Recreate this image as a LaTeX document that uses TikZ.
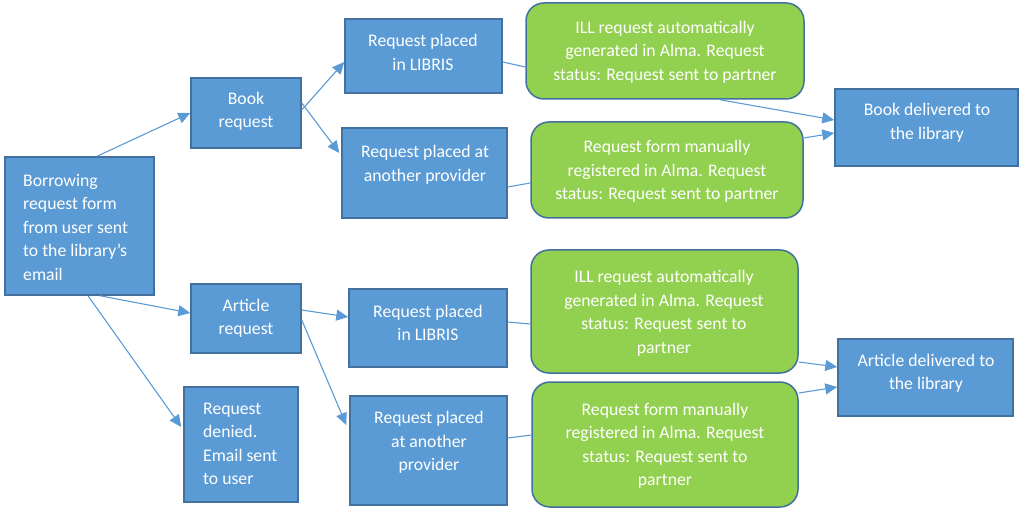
\documentclass[tikz,border=0pt]{standalone}
\usepackage{fontspec}
\setmainfont{Carlito}
\usetikzlibrary{arrows.meta}
\definecolor{blu}{HTML}{5B9BD5}
\definecolor{bdr}{HTML}{41719C}
\definecolor{grn}{HTML}{92D050}
\definecolor{lnc}{HTML}{5B9BD5}
\tikzset{
  bluebox/.style={draw=bdr, fill=blu, line width=1.5pt, inner sep=0pt},
  greenbox/.style={draw=bdr, fill=grn, line width=1.5pt, inner sep=0pt, rounded corners=18pt},
  txt/.style={text=white, font=\fontsize{17.7}{23.5}\selectfont, align=center, inner sep=0pt, yshift=-1.5pt},
  txtl/.style={text=white, font=\fontsize{17.7}{23.5}\selectfont, align=left, inner sep=0pt, anchor=west, yshift=-1.5pt},
  conn/.style={draw=lnc, line width=1.1pt, -{Triangle[length=12pt,width=11pt]}},
  link/.style={draw=lnc, line width=1.1pt}
}
\begin{document}
\begin{tikzpicture}[x=1pt,y=-1pt]
\useasboundingbox (0,0) rectangle (1024,510);
% boxes
\node[bluebox, minimum width=149pt, minimum height=138pt] (bor) at (79.5,226) {};
\node[bluebox, minimum width=110pt, minimum height=70pt] (book) at (246,113) {};
\node[bluebox, minimum width=110pt, minimum height=69pt] (art) at (246,318.5) {};
\node[bluebox, minimum width=114pt, minimum height=115pt] (den) at (241,444.5) {};
\node[bluebox, minimum width=157pt, minimum height=74pt] (lib1) at (423.5,56) {};
\node[bluebox, minimum width=165pt, minimum height=90pt] (oth1) at (424.5,173) {};
\node[greenbox, minimum width=278pt, minimum height=96pt] (g1) at (665,51) {};
\node[greenbox, minimum width=272pt, minimum height=96pt] (g2) at (667,170) {};
\node[bluebox, minimum width=183pt, minimum height=77pt] (bdel) at (926.5,127.5) {};
\node[bluebox, minimum width=158pt, minimum height=78pt] (lib2) at (428,328) {};
\node[bluebox, minimum width=157pt, minimum height=109pt] (oth2) at (428.5,450.5) {};
\node[greenbox, minimum width=267pt, minimum height=123pt] (g3) at (664.5,311.5) {};
\node[greenbox, minimum width=266pt, minimum height=125pt] (g4) at (665,444.5) {};
\node[bluebox, minimum width=175pt, minimum height=77pt] (adel) at (925.5,377.5) {};
% texts
\node[txtl] (bort) at (23,225.5) {Borrowing\\request form\\from user sent\\to the library’s\\email};
\node[txt] (bookt) at (246,110) {Book\\request};
\node[txt] (artt) at (246,317) {Article\\request};
\node[txtl] (dent) at (203,442.5) {Request\\denied.\\Email sent\\to user};
\node[txt] (lib1t) at (423,51) {Request placed\\in LIBRIS};
\node[txt] (oth1t) at (425,163.5) {Request placed at\\another provider};
\node[txt] (g1t) at (665,50.5) {ILL request automatically\\generated in Alma. Request\\status: Request sent to partner};
\node[txt] (g2t) at (667,170) {Request form manually\\registered in Alma. Request\\status: Request sent to partner};
\node[txt] (bdelt) at (927,121.5) {Book delivered to\\the library};
\node[txt] (lib2t) at (428,321.5) {Request placed\\in LIBRIS};
\node[txt] (oth2t) at (429,441) {Request placed\\at another\\provider};
\node[txt] (g3t) at (664,312) {ILL request automatically\\generated in Alma. Request\\status: Request sent to\\partner};
\node[txt] (g4t) at (665,444.5) {Request form manually\\registered in Alma. Request\\status: Request sent to\\partner};
\node[txt] (adelt) at (926,372) {Article delivered to\\the library};
% connectors
\draw[conn] ([xshift=17.5pt]bor.north) -- (book.west);
\draw[conn] ([xshift=20.5pt]bor.south) -- ([yshift=5.5pt]art.west);
\draw[conn] ([xshift=8.5pt]bor.south) -- ([xshift=-2pt,yshift=17.5pt]den.west);
\draw[conn] ([yshift=3pt]book.east) -- ([yshift=-6pt]lib1.west);
\draw[conn] ([yshift=10pt]book.east) -- ([xshift=-2pt,yshift=20pt]oth1.west);
\draw[link] ([yshift=-6pt]lib1.east) -- ([yshift=-16pt]g1.west);
\draw[link] ([yshift=-14pt]oth1.east) -- ([yshift=-13pt]g2.west);
\draw[conn] ([xshift=55pt]g1.south) -- ([yshift=7.5pt]bdel.west);
\draw[conn] ([yshift=32pt]g2.east) -- ([yshift=-5.5pt]bdel.west);
\draw[conn] ([yshift=8.5pt]art.east) -- ([yshift=11pt]lib2.west);
\draw[conn] ([yshift=-1.5pt]art.east) -- ([xshift=-3pt,yshift=25.5pt]oth2.west);
\draw[link] ([yshift=6pt]lib2.east) -- ([yshift=-12.5pt]g3.west);
\draw[link] ([yshift=12.5pt]oth2.east) -- ([yshift=9.5pt]g4.west);
\draw[conn] ([yshift=-50.5pt]g3.east) -- ([yshift=10.5pt]adel.west);
\draw[conn] ([yshift=51.5pt]g4.east) -- ([yshift=-9.5pt]adel.west);
\end{tikzpicture}
\end{document}
